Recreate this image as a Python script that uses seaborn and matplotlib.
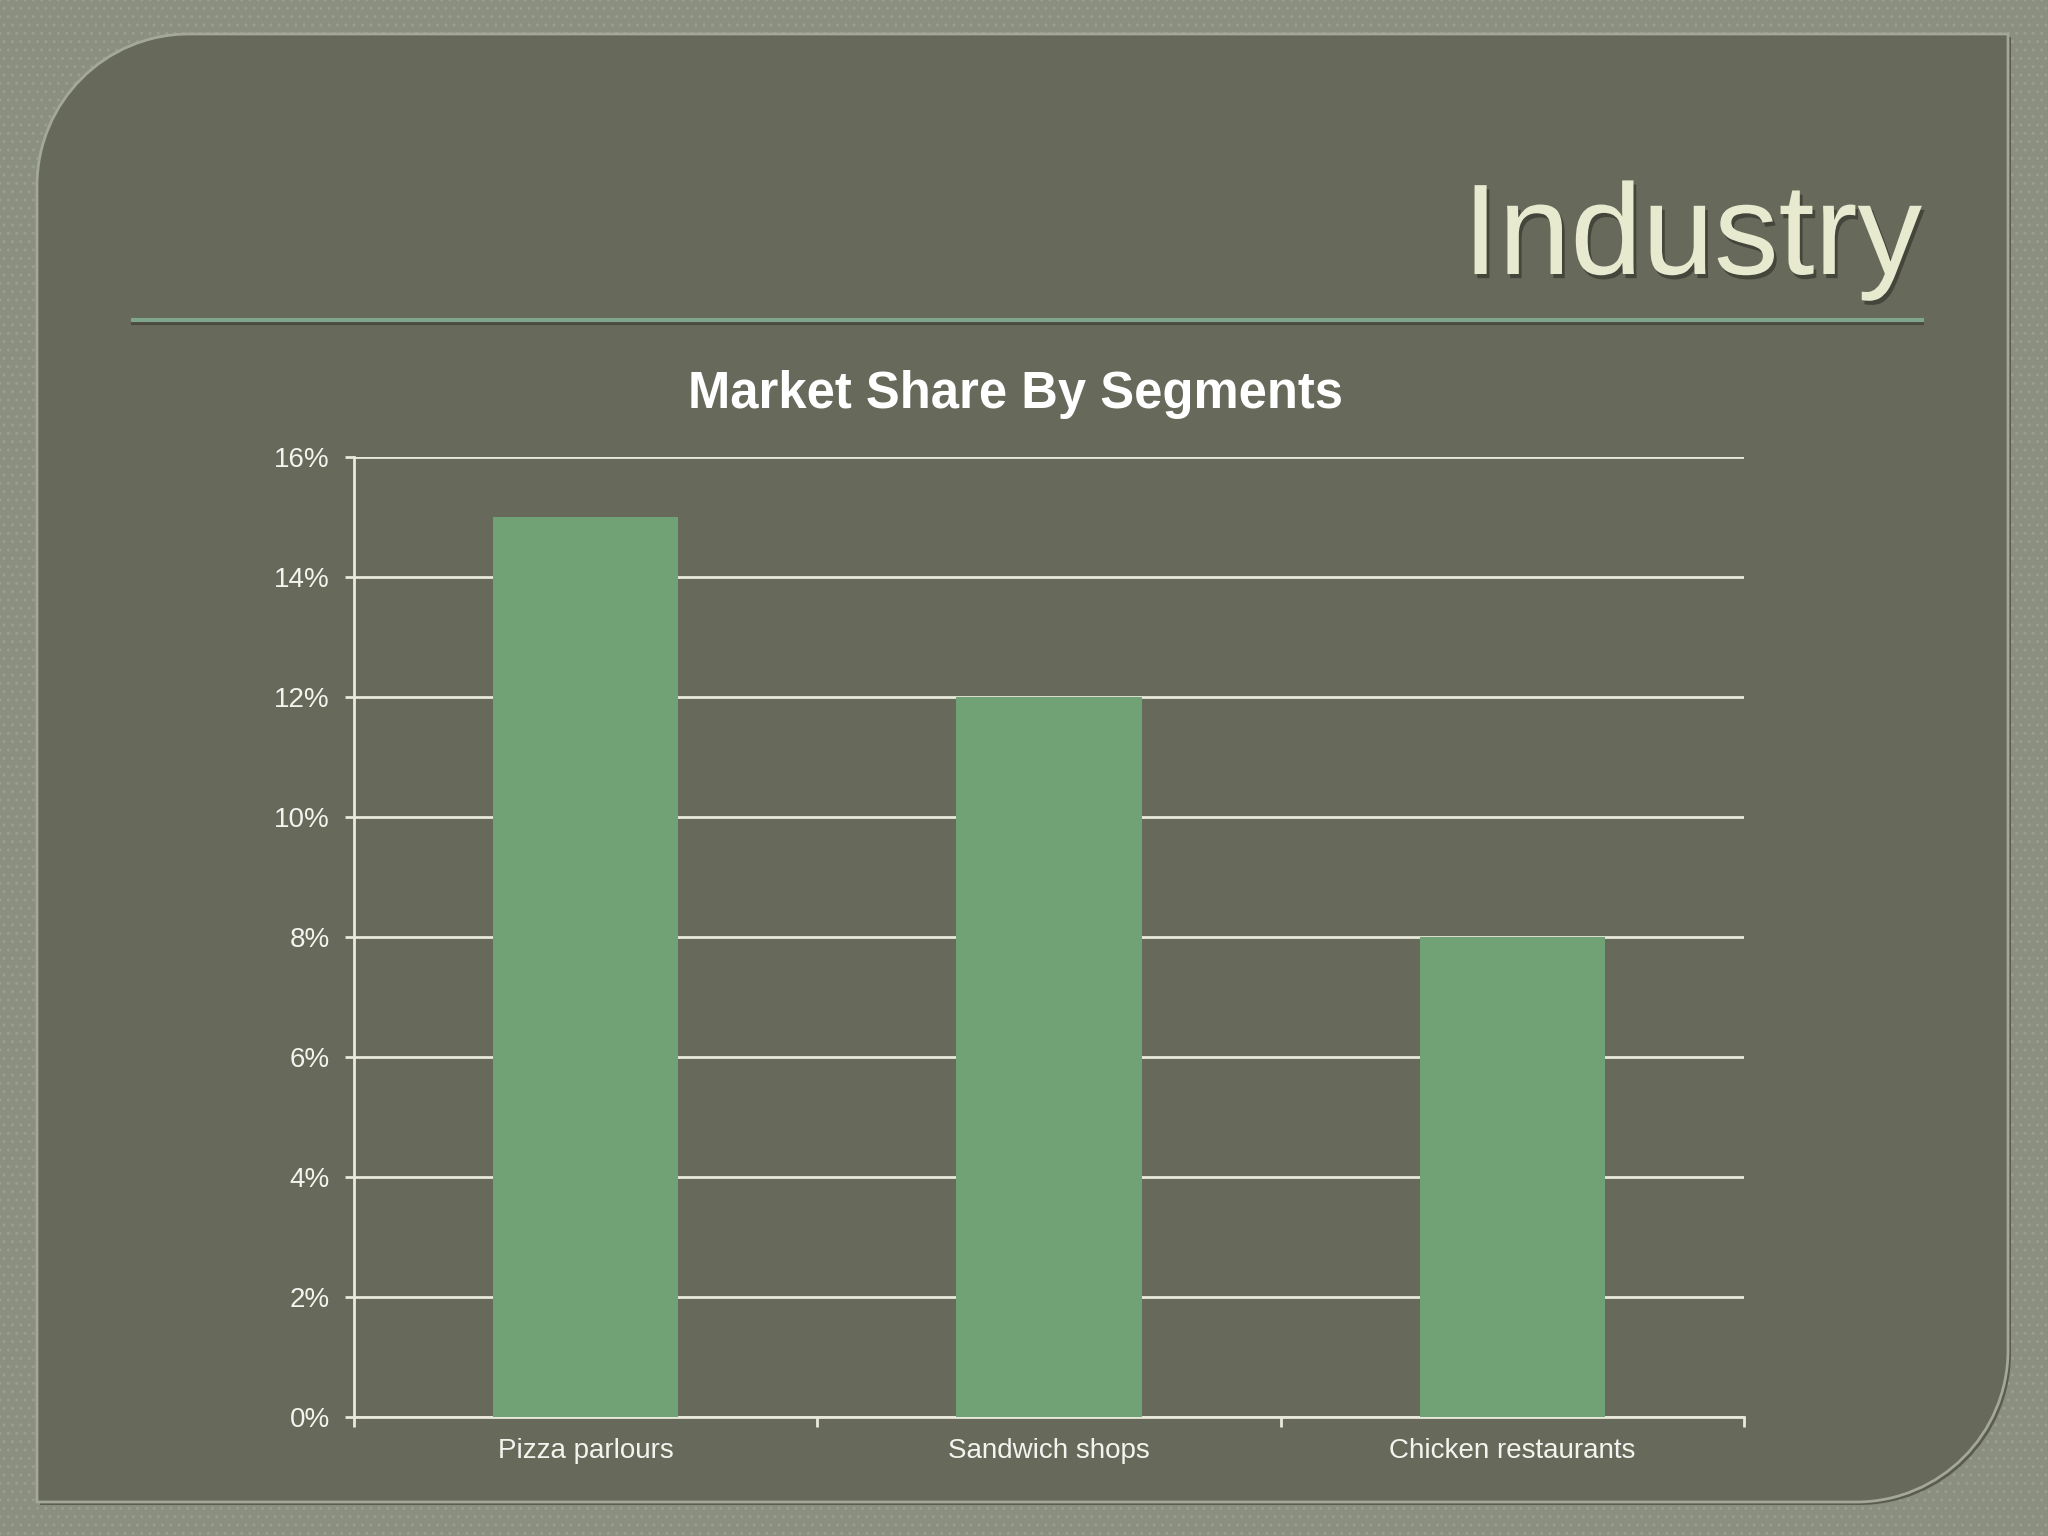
import numpy as np
import pandas as pd
import matplotlib
matplotlib.use("Agg")
import matplotlib.pyplot as plt
import matplotlib.patheffects as pe
from matplotlib.path import Path
from matplotlib.patches import PathPatch, Rectangle
from matplotlib.transforms import Affine2D
from matplotlib.ticker import PercentFormatter
import seaborn as sns

# data
categories = ["Pizza parlours", "Sandwich shops", "Chicken restaurants"]
shares = [0.15, 0.12, 0.08]
yticks = [0, 0.02, 0.04, 0.06, 0.08, 0.10, 0.12, 0.14, 0.16]

slide_title = "Industry"
chart_title = "Market Share By Segments"

OUTER = "#8b8f7f"
PANEL = "#67695b"
BAR = "#71a275"
GRID = "#e9eadc"
TEXT = "#f4f4ee"

sns.set_theme(style="white")
plt.rcParams["font.family"] = ["Liberation Sans", "DejaVu Sans"]

W, H = 2048, 1536
fig = plt.figure(figsize=(W / 100, H / 100), dpi=100)
fig.patch.set_facecolor(OUTER)

# background layer in pixel coords
bg = fig.add_axes([0, 0, 1, 1], zorder=0)
bg.set_xlim(0, W)
bg.set_ylim(H, 0)
bg.axis("off")

bg.add_patch(Rectangle((0, 0), W, H, facecolor=OUTER, edgecolor="#9a9e8e",
                       hatch="..", linewidth=0))

# slide panel, rounded top-left and bottom-right
x0, y0, x1, y1, r = 37, 34, 2008, 1502, 152
k = 0.5523 * r
verts = [
    (x0 + r, y0), (x1, y0), (x1, y1 - r),
    (x1, y1 - r + k), (x1 - r + k, y1), (x1 - r, y1),
    (x0, y1), (x0, y0 + r),
    (x0, y0 + r - k), (x0 + r - k, y0), (x0 + r, y0),
    (x0 + r, y0),
]
codes = [Path.MOVETO, Path.LINETO, Path.LINETO,
         Path.CURVE4, Path.CURVE4, Path.CURVE4,
         Path.LINETO, Path.LINETO,
         Path.CURVE4, Path.CURVE4, Path.CURVE4,
         Path.CLOSEPOLY]
panel = Path(verts, codes)
bg.add_patch(PathPatch(panel, facecolor="#5a5c50", edgecolor="none",
                       transform=bg.transData + Affine2D().translate(3, -3)))
bg.add_patch(PathPatch(panel, facecolor=PANEL, edgecolor="#a4a896", linewidth=2))

# rule under the slide title
bg.plot([131, 1924], [323, 323], color="#4b4a40", linewidth=3, solid_capstyle="butt")
bg.plot([131, 1924], [320, 320], color="#7fa68c", linewidth=3, solid_capstyle="butt")

bg.text(1922, 274, slide_title, ha="right", va="baseline", fontsize=93,
        color="#e8eacf",
        path_effects=[pe.withSimplePatchShadow(offset=(2, -3), shadow_rgbFace="#2e2f28", alpha=0.6)])

bg.text(1015, 408, chart_title, ha="center", va="baseline", fontsize=36.5,
        fontweight="bold", color="white")

# chart
ax = fig.add_axes([354 / W, 1 - 1417 / H, (1744 - 354) / W, (1417 - 457) / H], zorder=2)
ax.patch.set_alpha(0)
df = pd.DataFrame({"segment": categories, "share": shares})
sns.barplot(data=df, x="segment", y="share", color=BAR, saturation=1, width=0.4,
            linewidth=0, edgecolor="none", ax=ax, zorder=3)
ax.set_xlim(-0.5, len(categories) - 0.5)
ax.set_ylim(0, 0.16)
ax.set_yticks(yticks)
ax.yaxis.set_major_formatter(PercentFormatter(1.0, decimals=0))
ax.set_xlabel("")
ax.set_ylabel("")
ax.yaxis.grid(True, color=GRID, linewidth=2)
ax.set_axisbelow(True)
for s in ["top", "right"]:
    ax.spines[s].set_visible(False)
for s in ["left", "bottom"]:
    ax.spines[s].set_color(GRID)
    ax.spines[s].set_linewidth(2)

# category boundary ticks below the axis
ax.set_xticks(np.arange(-0.5, len(categories)), minor=True)
ax.tick_params(axis="x", which="major", length=0, labelsize=20, labelcolor=TEXT, pad=15)
ax.tick_params(axis="x", which="minor", bottom=True, length=7, width=2,
               color=GRID, direction="out")
ax.tick_params(axis="y", length=6.5, width=2, color=GRID, labelsize=20,
               labelcolor=TEXT, pad=11, left=True)

fig.savefig("out.png", dpi=100, facecolor=fig.get_facecolor())
